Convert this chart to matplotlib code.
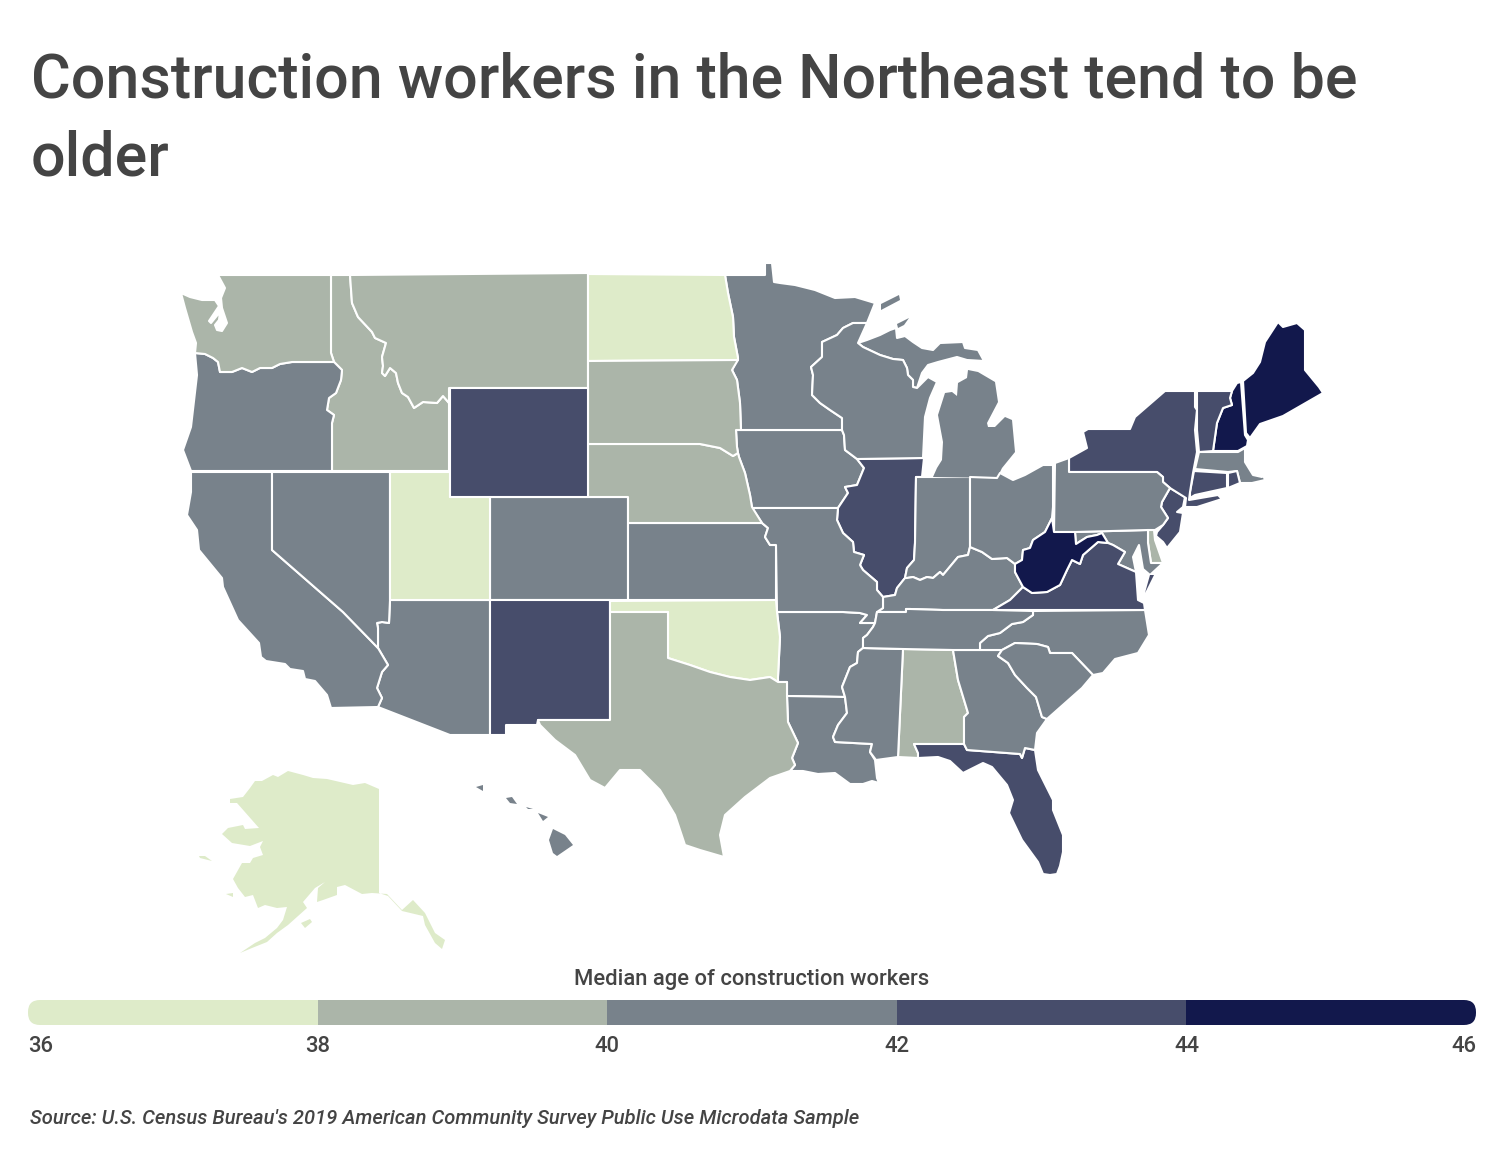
import matplotlib
matplotlib.use("Agg")
import matplotlib.pyplot as plt
from matplotlib.colors import ListedColormap, BoundaryNorm
from matplotlib.patches import Polygon, FancyBboxPatch
import numpy as np

plt.rcParams['font.family'] = ['Roboto', 'DejaVu Sans']

TITLE = "Construction workers in the Northeast tend to be\nolder"
LEGEND_TITLE = "Median age of construction workers"
SOURCE = "Source: U.S. Census Bureau's 2019 American Community Survey Public Use Microdata Sample"
BIN_EDGES = [36, 38, 40, 42, 44, 46]
BIN_COLORS = ['#DEEBC9', '#ABB5A9', '#78828B', '#474D6B', '#12184C']

STATES = ['AK','AL','AR','AZ','CA','CO','CT','DE','FL','GA','HI','IA','ID','IL','IN','KS','KY','LA','MA','MD','ME','MI','MN','MO','MS','MT','NC','ND','NE','NH','NJ','NM','NV','NY','OH','OK','OR','PA','RI','SC','SD','TN','TX','UT','VA','VT','WA','WI','WV','WY']
MEDIAN_AGE = [37.5,39.5,41,41,40.5,40.5,43,39.5,42.5,41,41,40.5,39,42.5,40.5,40.5,41,40.5,41.5,41.5,45,41,40.5,41,41,39.5,41,37.5,39,45,42.5,42.5,41,42.5,41,37.5,41,41.5,43,41,39.5,41,39,37,43,43,39.5,41,44.5,42.5]
BORDERLESS_STATES = ['AK', 'HI']

# State outlines in map units; the first ring is the mainland, later rings are islands
WA = [[(218,275),(331,275),(331,353),(334,362),(292,362),(280,364),(272,368),(260,368),(252,372),(242,368),(232,372),(220,372),(218,362),(213,358),(205,354),(195,353),(196,343),(192,332),(185,308),(181,293),(190,297),(202,300),(215,300),(219,306),(209,321),(211,323),(220,312),(219,320),(215,325),(217,330),(222,331),(227,323),(222,308),(221,298),(225,288)]]
OR = [[(195,353),(205,354),(213,358),(218,362),(220,372),(232,372),(242,368),(252,372),(260,368),(272,368),(280,364),(292,362),(334,362),(342,370),(341,380),(336,393),(329,398),(327,410),(334,415),(332,423),(332,471),(191,471),(183,450),(191,427),(197,375)]]
ID = [[(331,275),(350,275),(352,303),(358,317),(372,332),(375,338),(386,343),(382,357),(383,366),(382,373),(385,376),(390,368),(396,373),(398,383),(402,393),(408,397),(414,408),(423,402),(437,403),(443,396),(449,403),(449,471),(332,471),(332,423),(334,415),(327,410),(329,398),(336,393),(341,380),(342,370),(334,362),(331,353)]]
MT = [[(350,275),(588,273),(588,388),(449,388),(449,403),(443,396),(437,403),(423,402),(414,408),(408,397),(402,393),(398,383),(396,373),(390,368),(385,376),(382,373),(383,366),(382,357),(386,343),(375,338),(372,332),(358,317),(352,303)]]
WY = [[(450,388),(588,388),(588,497),(450,497)]]
ND = [[(588,274),(725,275),(728,293),(733,317),(734,337),(738,358),(738,360),(588,361)]]
SD = [[(588,361),(738,360),(732,370),(737,380),(740,403),(741,430),(736,430),(737,447),(738,453),(733,456),(720,448),(700,444),(588,444)]]
NE = [[(588,444),(700,444),(720,448),(733,456),(738,453),(739,457),(745,473),(750,495),(752,507),(762,523),(628,523),(628,497),(588,497)]]
KS = [[(628,523),(762,523),(768,528),(765,537),(770,545),(776,545),(776,600),(628,600)]]
OK = [[(610,601),(776,600),(777,612),(780,637),(778,677),(778,682),(770,677),(750,680),(730,677),(710,672),(690,665),(668,658),(668,612),(610,612)]]
TX = [[(610,612),(668,612),(668,658),(690,665),(710,672),(730,677),(750,680),(770,677),(778,682),(787,682),(787,696),(788,722),(798,743),(792,758),(795,765),(790,771),(770,778),(745,797),(725,815),(720,835),(724,857),(700,850),(685,845),(675,815),(660,790),(640,770),(620,770),(605,788),(590,780),(575,755),(555,740),(540,725),(538,720),(610,720)]]
NM = [[(490,600),(610,600),(610,720),(538,720),(537,725),(506,725),(506,735),(490,735)]]
AZ = [[(390,600),(490,600),(490,735),(450,735),(378,707),(382,698),(377,688),(382,672),(388,665),(378,648),(378,628),(377,623),(382,622),(389,623)]]
NV = [[(272,472),(390,472),(390,600),(389,623),(382,622),(377,623),(378,628),(378,648),(343,612),(272,550)]]
CA = [[(191,472),(272,472),(272,550),(343,612),(378,648),(388,665),(382,672),(377,688),(382,698),(378,707),(331,708),(327,695),(315,681),(305,679),(303,671),(290,669),(285,664),(266,661),(261,657),(259,643),(238,620),(223,587),(222,578),(199,550),(197,530),(187,515),(191,492)]]
UT = [[(390,472),(450,472),(450,497),(490,497),(490,600),(390,600)]]
CO = [[(490,497),(628,497),(628,600),(490,600)]]
MN = [[(725,275),(765,275),(765,263),(772,263),(774,282),(780,283),(795,285),(815,290),(835,298),(855,297),(875,303),(867,323),(853,323),(843,328),(837,335),(822,342),(822,357),(811,367),(813,375),(812,395),(820,403),(830,410),(842,418),(842,430),(741,430),(740,403),(737,380),(732,370),(738,358),(734,337),(733,317),(728,293)],
      [(881,304),(899,295),(900,300),(881,310)]]
WI = [[(853,323),(867,323),(858,343),(863,347),(880,355),(893,359),(903,360),(907,368),(908,375),(913,380),(913,387),(917,388),(928,377),(937,382),(930,398),(925,417),(923,458),(857,459),(845,450),(844,435),(842,430),(842,418),(830,410),(820,403),(812,395),(813,375),(811,367),(822,357),(822,342),(837,335),(843,328)]]
MI = [[(863,347),(858,343),(867,340),(880,335),(890,330),(896,328),(897,338),(905,336),(913,342),(922,348),(933,350),(940,343),(963,342),(965,348),(978,350),(984,361),(967,360),(957,357),(938,362),(928,365),(922,373),(917,388),(913,387),(913,380),(908,375),(907,368),(903,360),(893,359),(880,355)],
      [(897,324),(909,318),(904,325),(898,328)],
      [(933,477),(997,478),(1002,468),(1015,452),(1012,420),(1005,417),(995,427),(988,427),(987,423),(998,402),(995,382),(978,372),(968,370),(967,378),(958,383),(957,396),(952,392),(945,393),(938,415),(943,442),(942,460),(937,468)]]
IL = [[(857,459),(924,458),(922,477),(916,477),(915,543),(914,560),(907,568),(905,578),(897,588),(895,595),(883,597),(877,590),(877,582),(863,570),(860,565),(864,555),(854,552),(853,542),(843,533),(837,520),(838,508),(848,493),(845,487),(857,485),(864,468)]]
IA = [[(736,430),(842,430),(844,435),(845,450),(857,459),(864,468),(857,485),(845,487),(848,493),(838,508),(752,508),(750,495),(745,473),(739,457),(738,453),(737,447)]]
MO = [[(752,508),(838,508),(837,520),(843,533),(853,542),(854,552),(864,555),(860,565),(863,570),(877,582),(877,590),(883,597),(883,608),(877,612),(875,623),(860,623),(867,615),(860,613),(843,612),(777,612),(776,545),(770,545),(765,537),(768,528),(762,523)]]
AR = [[(777,612),(843,612),(860,613),(867,615),(860,623),(875,623),(873,627),(867,635),(863,638),(863,648),(858,652),(857,663),(850,667),(842,687),(845,697),(787,696),(787,682),(778,682),(778,677),(780,637)]]
LA = [[(787,696),(845,697),(847,713),(838,725),(833,737),(835,742),(872,744),(870,752),(875,760),(877,778),(879,783),(872,781),(863,784),(850,784),(835,773),(818,774),(803,771),(790,771),(795,765),(792,758),(798,743),(788,722)]]
MS = [[(863,648),(903,649),(898,757),(876,760),(870,752),(872,744),(835,742),(833,737),(838,725),(847,713),(845,697),(842,687),(850,667),(857,663),(858,652)]]
AL = [[(903,649),(953,650),(958,680),(968,713),(964,717),(964,744),(914,744),(918,753),(918,758),(898,757)]]
GA = [[(953,650),(1002,650),(998,656),(1008,663),(1015,675),(1027,688),(1036,697),(1042,717),(1047,719),(1037,733),(1035,750),(1025,748),(1022,758),(1020,754),(967,750),(964,744),(964,717),(968,713),(958,680)]]
SC = [[(1002,650),(1015,643),(1037,644),(1048,647),(1050,653),(1072,653),(1093,675),(1082,688),(1047,719),(1042,717),(1036,697),(1027,688),(1015,675),(1008,663),(998,656)]]
NC = [[(980,643),(988,636),(1000,633),(1012,624),(1023,622),(1033,615),(1033,611),(1145,610),(1149,635),(1138,653),(1115,659),(1103,673),(1093,675),(1072,653),(1050,653),(1048,647),(1037,644),(1015,643),(1002,650),(980,650)]]
TN = [[(877,612),(906,612),(906,609),(910,609),(943,610),(993,610),(1033,611),(1033,615),(1023,622),(1012,624),(1000,633),(988,636),(980,643),(980,650),(953,650),(903,649),(863,648),(863,638),(867,635),(873,627),(875,623)]]
KY = [[(883,597),(895,595),(897,588),(905,578),(907,578),(913,577),(920,580),(927,577),(933,578),(940,572),(943,575),(958,557),(968,555),(970,547),(982,552),(992,559),(1007,558),(1015,564),(1015,572),(1023,587),(1010,600),(993,610),(943,610),(910,609),(906,609),(906,612),(883,612),(877,612),(883,608)]]
IN = [[(916,477),(970,477),(970,547),(968,555),(958,557),(943,575),(940,572),(933,578),(927,577),(920,580),(913,577),(907,578),(905,578),(907,568),(914,560),(915,543)]]
OH = [[(970,477),(997,478),(1000,473),(1013,480),(1025,475),(1043,465),(1053,465),(1053,507),(1052,518),(1045,532),(1033,540),(1030,548),(1023,550),(1022,560),(1015,564),(1007,558),(992,559),(982,552),(970,547)]]
WV = [[(1015,564),(1022,560),(1023,550),(1030,548),(1033,540),(1045,532),(1052,518),(1054,532),(1075,532),(1076,544),(1087,537),(1097,535),(1102,533),(1108,543),(1098,542),(1083,555),(1080,564),(1072,560),(1067,570),(1060,585),(1047,592),(1032,593),(1023,587),(1015,572)]]
VA = [[(993,610),(1010,600),(1023,587),(1032,593),(1047,592),(1060,585),(1067,570),(1072,560),(1080,564),(1083,555),(1098,542),(1108,543),(1113,545),(1125,552),(1118,564),(1136,572),(1138,600),(1144,603),(1145,610)],
      [(1154,575),(1145,593),(1150,575)]]
MD = [[(1075,532),(1148,530),(1148,543),(1151,563),(1163,563),(1150,575),(1143,569),(1139,545),(1133,557),(1136,572),(1118,564),(1125,552),(1113,545),(1108,543),(1102,533),(1097,535),(1087,537),(1076,544)]]
DE = [[(1148,530),(1154,530),(1155,540),(1163,563),(1151,563),(1148,543)]]
PA = [[(1055,463),(1069,458),(1069,472),(1157,472),(1163,477),(1163,482),(1170,488),(1162,502),(1161,507),(1168,518),(1163,525),(1155,530),(1148,530),(1075,532),(1054,532)]]
NY = [[(1069,458),(1087,448),(1083,432),(1088,429),(1130,429),(1135,417),(1165,391),(1195,391),(1195,407),(1197,410),(1195,430),(1197,452),(1193,473),(1190,492),(1189,500),(1218,495),(1222,499),(1197,507),(1185,507),(1186,498),(1170,488),(1163,482),(1163,477),(1157,472),(1069,472)]]
NJ = [[(1170,488),(1185,497),(1183,507),(1177,512),(1183,513),(1180,532),(1167,548),(1163,542),(1156,536),(1157,532),(1163,525),(1168,518),(1161,507),(1162,502)]]
CT = [[(1194,471),(1227,473),(1227,488),(1195,495),(1190,498),(1190,492)]]
RI = [[(1228,473),(1237,471),(1240,483),(1228,488)]]
MA = [[(1199,452),(1238,452),(1245,448),(1245,462),(1253,475),(1262,477),(1262,472),(1265,480),(1252,483),(1240,483),(1237,471),(1228,472),(1195,469)]]
VT = [[(1197,391),(1232,391),(1230,398),(1232,405),(1223,408),(1217,423),(1213,451),(1199,452),(1197,430),(1197,407)]]
NH = [[(1232,391),(1237,383),(1241,382),(1245,435),(1248,440),(1247,446),(1238,451),(1213,451),(1217,423),(1223,408),(1232,405),(1230,398)]]
ME = [[(1243,381),(1253,373),(1260,362),(1265,342),(1278,322),(1283,327),(1297,323),(1305,330),(1305,370),(1319,387),(1323,393),(1283,416),(1260,424),(1250,438),(1246,433)]]
FL = [[(914,744),(964,744),(967,750),(1020,754),(1022,758),(1025,748),(1035,750),(1038,770),(1053,800),(1053,810),(1063,835),(1063,852),(1060,866),(1057,874),(1050,875),(1043,874),(1038,862),(1022,840),(1009,813),(1013,800),(1007,785),(992,767),(983,763),(963,773),(950,761),(938,757),(918,758),(918,753)]]
AK = [[(379,789),(365,783),(353,785),(327,779),(313,778),(303,775),(288,771),(278,777),(273,775),(262,781),(255,781),(250,788),(243,797),(230,799),(230,803),(237,803),(259,828),(245,829),(243,825),(228,828),(222,834),(232,843),(250,846),(263,841),(260,847),(263,855),(253,858),(250,863),(242,863),(233,879),(238,888),(245,897),(253,895),(258,908),(265,905),(277,908),(287,907),(283,920),(277,928),(265,938),(255,943),(240,953),(252,948),(267,942),(277,933),(288,925),(307,908),(303,902),(315,888),(325,882),(318,888),(317,902),(323,900),(337,895),(337,887),(345,885),(362,894),(372,893),(387,894),(402,910),(413,900),(425,913),(435,933),(445,940),(442,949),(435,943),(425,925),(423,916),(402,911),(388,896),(379,893)],
      [(301,923),(310,919),(312,922),(305,928)],
      [(199,856),(205,856),(212,861),(200,858)],
      [(226,894),(233,893),(233,897)]]
HI = [[(553,829),(565,835),(573,845),(557,856),(553,853),(549,840)],
      [(538,813),(548,817),(543,821)],
      [(526,807),(533,809),(528,809)],
      [(506,798),(512,797),(517,804),(510,803)],
      [(476,787),(483,785),(483,791)]]

OUTLINES = dict(AK=AK,AL=AL,AR=AR,AZ=AZ,CA=CA,CO=CO,CT=CT,DE=DE,FL=FL,GA=GA,HI=HI,IA=IA,ID=ID,IL=IL,IN=IN,KS=KS,KY=KY,LA=LA,MA=MA,MD=MD,ME=ME,MI=MI,MN=MN,MO=MO,MS=MS,MT=MT,NC=NC,ND=ND,NE=NE,NH=NH,NJ=NJ,NM=NM,NV=NV,NY=NY,OH=OH,OK=OK,OR=OR,PA=PA,RI=RI,SC=SC,SD=SD,TN=TN,TX=TX,UT=UT,VA=VA,VT=VT,WA=WA,WI=WI,WV=WV,WY=WY)

W, H = 1500, 1152
fig = plt.figure(figsize=(W/100, H/100), dpi=100, facecolor='white')
ax = fig.add_axes([0, 0, 1, 1])
ax.set_xlim(0, W)
ax.set_ylim(H, 0)
ax.axis('off')

cmap = ListedColormap(BIN_COLORS)
norm = BoundaryNorm(BIN_EDGES, cmap.N)
TEXT = '#444444'

title_lines = TITLE.split('\n')
ax.text(31, 97, title_lines[0], fontsize=43.8, fontweight='medium', color=TEXT, va='baseline', ha='left')
ax.text(31, 176, title_lines[1], fontsize=43.8, fontweight='medium', color=TEXT, va='baseline', ha='left')

for st, age in zip(STATES, MEDIAN_AGE):
    for i, ring in enumerate(OUTLINES[st]):
        bordered = i == 0 and st not in BORDERLESS_STATES
        ax.add_patch(Polygon(ring, closed=True, facecolor=cmap(norm(age)),
                             edgecolor='white' if bordered else 'none',
                             linewidth=1.5 if bordered else 0, joinstyle='round', zorder=2))

# Legend bar
L, R, T, B = 28, 1476, 1000, 1025
cax = fig.add_axes([L/W, 1-B/H, (R-L)/W, (B-T)/H])
cax.axis('off')
mesh = cax.pcolormesh(BIN_EDGES, [0, 1], np.array([[(a+b)/2 for a, b in zip(BIN_EDGES[:-1], BIN_EDGES[1:])]]), cmap=cmap, norm=norm)
cax.set_xlim(BIN_EDGES[0], BIN_EDGES[-1])
cax.set_ylim(0, 1)
clip = FancyBboxPatch((L+12, T+12), R-L-24, 1, boxstyle='round,pad=12,rounding_size=12', transform=ax.transData, facecolor='none', edgecolor='none')
ax.add_patch(clip)
mesh.set_clip_path(clip)

ax.text((L+R)/2, 985, LEGEND_TITLE, fontsize=15.8, fontweight='medium', color=TEXT, ha='center', va='baseline')
for v in BIN_EDGES:
    x = L + (v-BIN_EDGES[0])/(BIN_EDGES[-1]-BIN_EDGES[0])*(R-L)
    ha = 'left' if v == BIN_EDGES[0] else ('right' if v == BIN_EDGES[-1] else 'center')
    ax.text(x, 1052, str(v), fontsize=15.8, fontweight='medium', color=TEXT, ha=ha, va='baseline')
ax.text(30, 1124, SOURCE, fontsize=14.5, fontstyle='italic', fontweight='medium', color=TEXT, ha='left', va='baseline')

fig.savefig('out.png', dpi=100, facecolor='white')
